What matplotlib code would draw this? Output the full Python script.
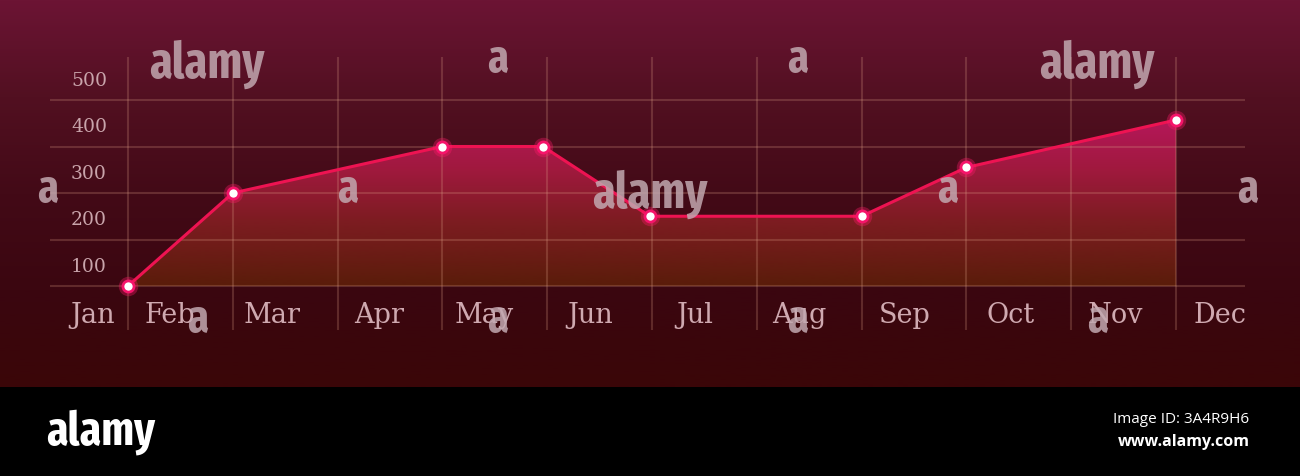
import numpy as np
import matplotlib
matplotlib.use("Agg")
import matplotlib.pyplot as plt
from matplotlib import font_manager
from matplotlib.font_manager import FontProperties
from matplotlib.colors import LinearSegmentedColormap

# ---------------- data ----------------
months = ["Jan", "Feb", "Mar", "Apr", "May", "Jun", "Jul", "Aug", "Sep", "Oct", "Nov", "Dec"]
month_pos = [-0.34, 0.40, 1.38, 2.40, 3.40, 4.41, 5.41, 6.41, 7.41, 8.42, 9.42, 10.42]
y_ticks = [100, 200, 300, 400, 500]
y_tick_labels = ["100", "200", "300", "400", "500"]
grid_x = list(range(11))
point_x = [0, 1, 3, 3.96, 4.98, 7, 8, 10]
point_y = [100, 300, 400, 400, 250, 250, 355, 457]

# ---------------- fonts ----------------
def pick_condensed():
    best = None
    best_score = -1
    for f in font_manager.fontManager.ttflist:
        fn = f.fname.replace("-", "").replace("_", "").lower()
        if "italic" in fn or "oblique" in fn:
            continue
        score = 0
        if "extracondensed" in fn:
            score += 6
        elif "semicondensed" in fn:
            score += 2
        elif "condensed" in fn or "narrow" in fn:
            score += 4
        else:
            continue
        if "extrabold" in fn or "black" in fn:
            score += 2
        elif "bold" in fn and "semibold" not in fn:
            score += 3
        elif "semibold" in fn:
            score += 1
        if "sans" in fn:
            score += 1
        if "mono" in fn or "serif" in fn.replace("sansserif", ""):
            score -= 5
        if score > best_score:
            best_score = score
            best = f.fname
    return best

cond_path = pick_condensed()
if cond_path:
    wm_fp = FontProperties(fname=cond_path)
    wm_scale = 1.0
else:
    wm_fp = FontProperties(family="DejaVu Sans", weight="bold", stretch="condensed")
    wm_scale = 0.75

serif = "DejaVu Serif"
names = {f.name for f in font_manager.fontManager.ttflist}
sans = "Open Sans" if "Open Sans" in names else "DejaVu Sans"

W, H = 1300, 476
fig = plt.figure(figsize=(W / 100, H / 100), dpi=100)
fig.patch.set_facecolor("black")

panel_h = 387
bg = fig.add_axes([0, 1 - panel_h / H, 1, panel_h / H])
bg.set_axis_off()
bg_cmap = LinearSegmentedColormap.from_list(
    "bg", [(0.0, "#6c1434"), (0.25, "#521021"), (0.5, "#430a17"), (0.75, "#3b0610"), (1.0, "#3a0608")])
grad = np.linspace(0, 1, 256).reshape(-1, 1)
bg.imshow(grad, aspect="auto", cmap=bg_cmap, extent=[0, 1, 0, 1], origin="upper")
bg.set_xlim(0, 1)
bg.set_ylim(0, 1)

ax = fig.add_axes([0, 1 - panel_h / H, 1, panel_h / H])
ax.set_axis_off()
ax.patch.set_alpha(0)
pxx = 104.8
pxy = 0.465
ax.set_xlim(-128 / pxx, (W - 128) / pxx)
ax.set_ylim(100 - (panel_h - 286) / pxy, 100 + 286 / pxy)

# filled area with gradient
poly = ax.fill_between(point_x, point_y, 100, facecolor="none", edgecolor="none")
fill_cmap = LinearSegmentedColormap.from_list(
    "fill", [(0.0, "#b5175a"), (0.3, "#a0193e"), (0.6, "#7e1c22"), (1.0, "#5a1c0a")])
top = max(point_y)
im = ax.imshow(grad, aspect="auto", cmap=fill_cmap,
               extent=[point_x[0], point_x[-1], 100, top], origin="upper", zorder=2)
im.set_clip_path(poly.get_paths()[0], transform=ax.transData)

# grid
gcol = (0.86, 0.62, 0.52, 0.24)
for v in y_ticks:
    ax.plot([(50 - 128) / pxx, (1245 - 128) / pxx], [v, v], color=gcol, lw=1.5, zorder=3,
            solid_capstyle="butt")
for k in grid_x:
    ax.plot([k, k], [100 + (286 - 57) / pxy, 100 - (330 - 286) / pxy], color=gcol, lw=1.5,
            zorder=3, solid_capstyle="butt")

# line + markers
ax.plot(point_x, point_y, color="#ee1352", lw=2.2, zorder=4)
ax.plot(point_x, point_y, ls="none", marker="o", ms=14, color="#ff1a6a", alpha=0.35, mec="none", zorder=5)
ax.plot(point_x, point_y, ls="none", marker="o", ms=8, mfc="white", mec="#f5146a", mew=2.0, zorder=6)

# labels
lab_col = "#c9a4ab"
for t, v in zip(y_tick_labels, y_ticks):
    ax.text((89 - 128) / pxx, v + 31, t, ha="center", va="baseline", fontsize=13.5,
            family=serif, color=lab_col, zorder=7)
for m, p in zip(months, month_pos):
    ax.text(p, 100 - (323 - 286) / pxy, m, ha="center", va="baseline", fontsize=19.5,
            family=serif, color="#cfa9b0", zorder=7)

# watermarks
def fx(x):
    return x / W

def fy(y):
    return 1 - y / H

wm_col = (0.76, 0.66, 0.69, 0.85)
for (x, y) in [(207, 78), (1097, 78), (650, 208)]:
    fig.text(fx(x), fy(y), "alamy", ha="center", va="baseline", fontsize=36 * wm_scale,
             fontproperties=wm_fp, color=wm_col, zorder=10)
for (x, y) in [(48, 202), (348, 202), (498, 72), (798, 72), (948, 202), (1248, 202),
               (198, 332), (498, 332), (798, 332), (1098, 332)]:
    fig.text(fx(x), fy(y), "a", ha="center", va="baseline", fontsize=33 * wm_scale,
             fontproperties=wm_fp, color=wm_col, zorder=10)

# bottom band text
fig.text(fx(101), fy(445), "alamy", ha="center", va="baseline", fontsize=34 * wm_scale,
         fontproperties=wm_fp, color="white")
fig.text(fx(1249), fy(423), "Image ID: 3A4R9H6", ha="right", va="baseline", fontsize=11,
         family=sans, color="white")
fig.text(fx(1250), fy(446), "www.alamy.com", ha="right", va="baseline", fontsize=11.5,
         family=sans, weight="bold", color="white")

fig.savefig("out.png", dpi=100, facecolor=fig.get_facecolor())
